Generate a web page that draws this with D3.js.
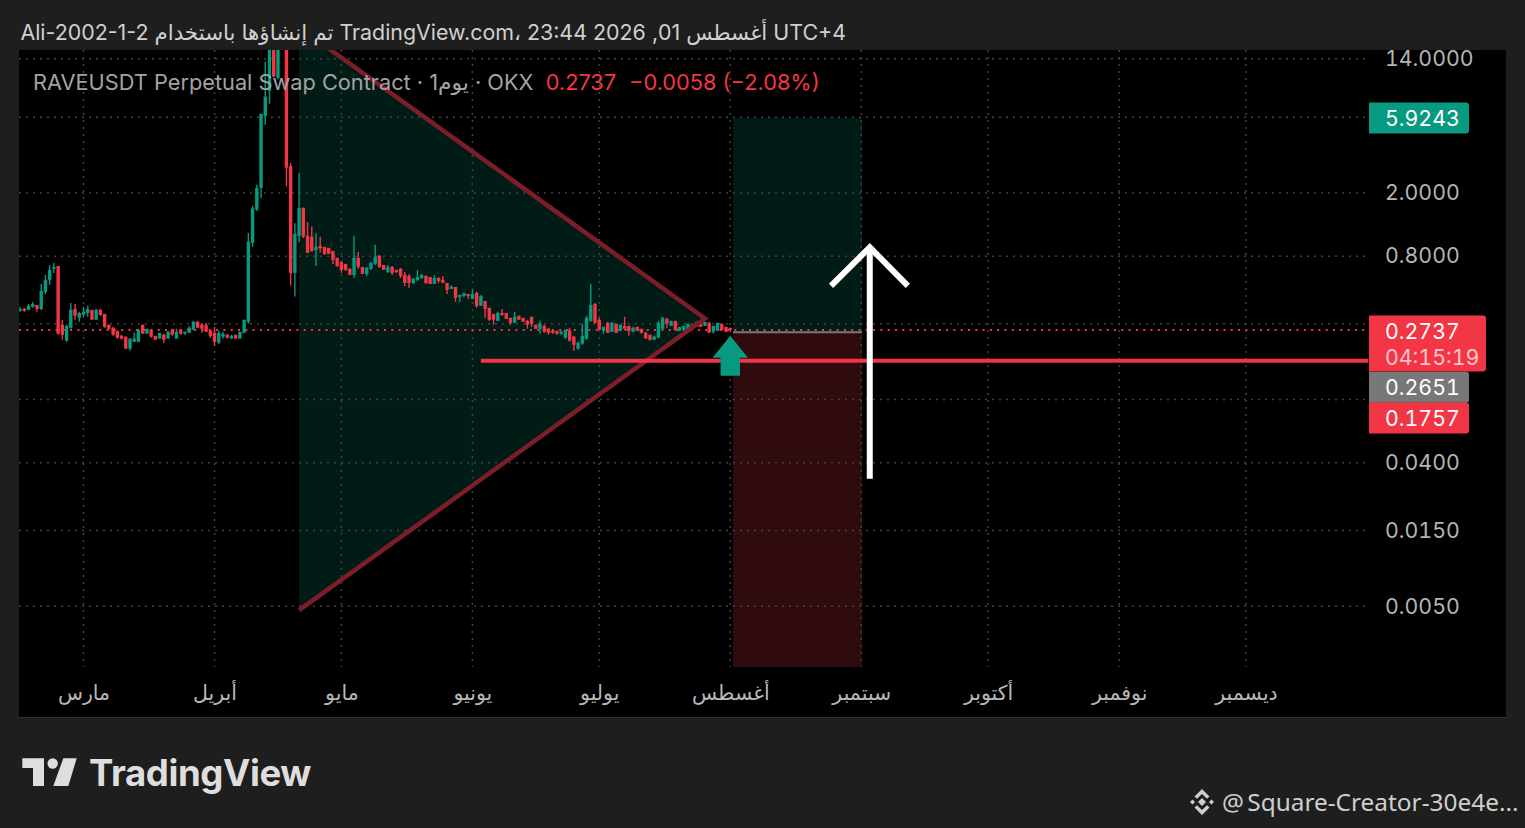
<!DOCTYPE html>
<html lang="ar">
<head>
<meta charset="utf-8">
<title>RAVEUSDT</title>
<script src="https://cdn.jsdelivr.net/npm/d3@7"></script>
<style>
  html, body { margin: 0; padding: 0; background: #1e1e1e; overflow: hidden; }
  svg { display: block; }
  text { font-family: Inter, "Noto Sans", "DejaVu Sans", sans-serif; }
  .price { font-size: 21.3px; font-variant-numeric: tabular-nums; }
</style>
</head>
<body>
<div id="chart"></div>
<script>
/**
 * DATA
 * */
const firstDay = Date.UTC(2026, 1, 14);

const opens = [
  .362,.372,.367,.383,.394,.372,.476,.567,.665,.694,.296,.235,.283,.372,.327,
  .341,.351,.367,.318,.367,.346,.296,.283,.271,.252,
  .249,.209,.231,.231,.296,.260,.275,.252,.242,.256,
  .242,.275,.242,.275,.260,.263,.275,.309,.296,.296,
  .271,.263,.228,.249,.256,.242,.256,.242,.263,.309,
  .970,1.57,2.15,6.12,8.80,22,10.6,26,30,2.95,
  .627,1.07,1.61,1.075,1.06,.872,.929,.915,.902,.863,
  .780,.736,.715,.665,.609,.780,.684,.618,.665,.715,
  .803,.704,.636,.684,.655,.665,.609,.600,.542,.567,
  .583,.600,.592,.534,.583,.567,.542,.497,.512,.443,
  .449,.462,.430,.469,.389,.418,.378,.346,.313,.351,
  .351,.327,.304,.337,.327,.313,.332,.296,.279,.291,
  .279,.271,.271,.260,.245,.271,.249,.209,.225,.242,
  .313,.400,.318,.271,.304,.267,.300,.271,.291,.291,
  .267,.287,.279,.263,.256,.238,.245,.279,.322,.291,
  .313,.271,.275,.275,.296,.287,.304,.291,.304,.267,
  .271,.300,.287,.283
];
const highs = [
  .383,.378,.400,.412,.394,.534,.609,.704,.725,.694,.318,.296,.406,.400,.357,
  .383,.389,.367,.372,.372,.346,.296,.287,.271,.256,
  .249,.242,.263,.279,.296,.279,.275,.252,.263,.260,
  .271,.279,.279,.275,.267,.291,.313,.313,.300,.304,
  .271,.287,.271,.267,.260,.256,.256,.267,.318,1.12,
  1.66,2.25,6.30,13.4,28,30,32,40,38,3.08,
  1.29,2.68,1.62,1.31,1.23,1.115,1.06,.915,.902,.863,
  .780,.736,.715,.674,1.075,.851,.684,.684,.736,.942,
  .814,.704,.704,.694,.655,.674,.636,.618,.583,.655,
  .618,.609,.592,.609,.592,.600,.542,.527,.512,.456,
  .469,.462,.490,.476,.456,.418,.378,.346,.357,.372,
  .351,.327,.357,.337,.327,.318,.332,.296,.313,.296,
  .283,.275,.271,.271,.275,.283,.252,.231,.300,.337,
  .534,.406,.327,.287,.309,.309,.300,.296,.332,.291,
  .287,.287,.279,.267,.256,.252,.313,.332,.327,.313,
  .313,.287,.291,.300,.296,.309,.304,.309,.309,.291,
  .304,.300,.287,.283
];
const lows = [
  .357,.357,.367,.378,.357,.367,.462,.527,.627,.256,.238,.231,.279,.318,.309,
  .332,.332,.318,.318,.337,.283,.275,.252,.242,.238,
  .209,.203,.231,.231,.260,.260,.245,.238,.242,.228,
  .242,.252,.242,.256,.256,.263,.275,.283,.263,.267,
  .245,.218,.225,.242,.242,.242,.242,.242,.263,.300,
  .915,1.54,1.86,5.37,7.29,10.7,10.4,22,2.20,.522,
  .445,.98,1.04,.838,.851,.694,.842,.814,.826,.715,
  .684,.627,.646,.609,.583,.665,.618,.600,.655,.704,
  .674,.655,.627,.609,.627,.583,.519,.504,.534,.558,
  .575,.534,.534,.534,.542,.542,.462,.497,.412,.412,
  .443,.430,.430,.378,.389,.327,.313,.296,.313,.337,
  .322,.296,.304,.318,.309,.279,.287,.279,.260,.263,
  .256,.260,.256,.256,.242,.231,.203,.206,.221,.238,
  .309,.300,.275,.260,.263,.267,.263,.271,.275,.252,
  .267,.271,.260,.242,.235,.238,.245,.275,.283,.291,
  .271,.271,.271,.271,.279,.287,.287,.291,.263,.260,
  .271,.271,.267,.267
];
const closes = [
  .372,.362,.389,.400,.372,.483,.567,.655,.684,.260,.256,.291,.367,.337,.351,
  .357,.372,.318,.367,.341,.287,.279,.256,.245,.242,
  .209,.242,.242,.275,.260,.279,.249,.238,.263,.238,
  .267,.256,.267,.260,.267,.283,.309,.283,.279,.267,
  .252,.231,.263,.260,.245,.252,.242,.267,.318,.985,
  1.60,2.15,6.30,8.07,20,10.8,26,32,2.88,.627,
  1.106,1.61,1.06,.838,.863,.915,.898,.826,.826,.757,
  .694,.655,.655,.609,.780,.684,.618,.674,.725,.791,
  .684,.655,.684,.627,.636,.600,.542,.542,.575,.592,
  .609,.542,.534,.583,.558,.542,.490,.512,.436,.456,
  .469,.449,.462,.389,.449,.372,.318,.318,.351,.341,
  .322,.304,.332,.318,.309,.296,.300,.279,.300,.267,
  .263,.263,.260,.267,.275,.235,.221,.228,.252,.327,
  .394,.304,.275,.287,.263,.304,.263,.296,.279,.271,
  .283,.271,.263,.242,.238,.249,.304,.327,.300,.313,
  .275,.287,.291,.300,.279,.309,.287,.309,.263,.291,
  .304,.275,.267,.2737
];

const priceTicks = [14, 6, 2, 0.8, 0.3, 0.1, 0.04, 0.015, 0.005];
const coveredTicks = [6, 0.3, 0.1]; // these labels sit behind the price badges
const monthDates = d3.range(2, 12).map(m => new Date(Date.UTC(2026, m, 1)));
const monthLabels = ["مارس", "أبريل", "مايو", "يونيو", "يوليو", "أغسطس", "سبتمبر", "أكتوبر", "نوفمبر", "ديسمبر"];

// drawings on the chart: [date, price]
const triangleTop = [Date.UTC(2026, 3, 21), 22.1];
const triangleApex = [Date.UTC(2026, 6, 26), 0.3243];
const triangleBottom = [Date.UTC(2026, 3, 21), 0.00472];
const boxStart = Date.UTC(2026, 7, 1, 16), boxEnd = Date.UTC(2026, 8, 1, 4);
const takeProfit = 5.9243, entryPrice = 0.2651, stopPrice = 0.00206;
const lastPrice = 0.2737, levelPrice = 0.1757, levelStart = Date.UTC(2026, 5, 3);
const whiteArrowShaft = [[Date.UTC(2026, 8, 3), 0.0317], [Date.UTC(2026, 8, 3), 0.91]];
const whiteArrowHead = [[Date.UTC(2026, 7, 24, 20), 0.519], [Date.UTC(2026, 8, 3), 0.91], [Date.UTC(2026, 8, 12), 0.519]];
const markerAnchor = [Date.UTC(2026, 7, 1), 0.252];

const badges = [
  { label: "5.9243", y: 118, h: 31, w: 100, color: "#089981" },
  { label: "0.2651", y: 387.2, h: 31, w: 100, color: "#787878" },
  { label: "0.1757", y: 418, h: 31, w: 100, color: "#f23645" },
];

/**
 * CONSTANTS
 * */
const width = 1525, height = 828;
const plot = { left: 19, right: 1506, top: 50, bottom: 717, paneRight: 1368, paneBottom: 667 };
const green = "#089981", red = "#f23645";

const x = d3.scaleUtc()
  .domain([Date.UTC(2026, 2, 1), Date.UTC(2026, 11, 1)])
  .range([83.5, 1246]);
const y = d3.scaleLog()
  .domain([14, 0.005])
  .range([58.7, 606.2]);

const candles = opens.map((o, i) => ({
  date: d3.utcDay.offset(firstDay, i),
  o, h: highs[i], l: lows[i], c: closes[i],
}));

/**
 * DRAW
 * */
const svg = d3.select("#chart").append("svg")
  .attr("width", width)
  .attr("height", height);

svg.append("rect").attr("width", width).attr("height", height).attr("fill", "#1e1e1e");
svg.append("rect")
  .attr("x", plot.left).attr("y", plot.top)
  .attr("width", plot.right - plot.left).attr("height", plot.bottom - plot.top)
  .attr("fill", "#000");
svg.append("line")
  .attr("x1", plot.left).attr("x2", plot.right)
  .attr("y1", plot.bottom + 0.5).attr("y2", plot.bottom + 0.5)
  .attr("stroke", "#303030");

svg.append("clipPath").attr("id", "pane").append("rect")
  .attr("x", plot.left).attr("y", plot.top)
  .attr("width", plot.paneRight - plot.left).attr("height", plot.paneBottom - plot.top);

const pane = svg.append("g").attr("clip-path", "url(#pane)");

// triangle fill sits under the grid and the candles
const point = d => [x(d[0]), y(d[1])];
pane.append("polygon")
  .attr("points", [triangleTop, triangleApex, triangleBottom].map(point).join(" "))
  .attr("fill", green)
  .attr("fill-opacity", 0.18);

// long position boxes
pane.append("rect")
  .attr("x", x(boxStart)).attr("width", x(boxEnd) - x(boxStart))
  .attr("y", y(takeProfit)).attr("height", y(entryPrice) - y(takeProfit))
  .attr("fill", green).attr("fill-opacity", 0.18);
pane.append("rect")
  .attr("x", x(boxStart)).attr("width", x(boxEnd) - x(boxStart))
  .attr("y", y(entryPrice)).attr("height", y(stopPrice) - y(entryPrice))
  .attr("fill", red).attr("fill-opacity", 0.2);

// grid
pane.selectAll(".hgrid")
  .data(priceTicks)
  .join("line")
  .attr("class", "hgrid")
  .attr("x1", plot.left).attr("x2", plot.paneRight)
  .attr("y1", d => y(d)).attr("y2", d => y(d))
  .attr("stroke", "#424242").attr("stroke-width", 1.5).attr("stroke-dasharray", "2 5");
pane.selectAll(".vgrid")
  .data(monthDates)
  .join("line")
  .attr("class", "vgrid")
  .attr("x1", d => x(d)).attr("x2", d => x(d))
  .attr("y1", plot.top).attr("y2", plot.paneBottom)
  .attr("stroke", "#424242").attr("stroke-width", 1.5).attr("stroke-dasharray", "2 5");

// last price line
pane.append("line")
  .attr("x1", plot.left).attr("x2", plot.paneRight)
  .attr("y1", y(lastPrice)).attr("y2", y(lastPrice))
  .attr("stroke", red).attr("stroke-width", 2).attr("stroke-dasharray", "2 5.3");

// candles
const candle = pane.selectAll(".candle")
  .data(candles)
  .join("g")
  .attr("class", "candle")
  .attr("fill", d => d.c >= d.o ? green : red)
  .attr("stroke", d => d.c >= d.o ? green : red);
candle.append("line")
  .attr("x1", d => x(d.date)).attr("x2", d => x(d.date))
  .attr("y1", d => y(d.h)).attr("y2", d => y(d.l))
  .attr("stroke-width", 1.4);
candle.append("rect")
  .attr("x", d => x(d.date) - 1.7)
  .attr("width", 3.4)
  .attr("y", d => y(Math.max(d.o, d.c)))
  .attr("height", d => Math.max(1.2, Math.abs(y(d.o) - y(d.c))))
  .attr("stroke", "none");

// triangle edges
const edges = d3.line().x(d => x(d[0])).y(d => y(d[1]));
pane.append("path")
  .attr("d", edges([triangleTop, triangleApex, triangleBottom]))
  .attr("fill", "none")
  .attr("stroke", "#7d1d29")
  .attr("stroke-width", 4.5);

// entry line of the position
pane.append("line")
  .attr("x1", x(boxStart)).attr("x2", x(boxEnd))
  .attr("y1", y(entryPrice)).attr("y2", y(entryPrice))
  .attr("stroke", "#787878").attr("stroke-width", 2);

// horizontal level
pane.append("line")
  .attr("x1", x(levelStart)).attr("x2", plot.paneRight)
  .attr("y1", y(levelPrice)).attr("y2", y(levelPrice))
  .attr("stroke", red).attr("stroke-width", 4);

// teal arrow marker
const [mx, my] = point(markerAnchor);
const markerShape = [[0, 0], [17.7, 22], [9.7, 22], [9.7, 40], [-9.7, 40], [-9.7, 22], [-17.7, 22]];
pane.append("polygon")
  .attr("points", markerShape.map(d => [mx + d[0], my + d[1]]).join(" "))
  .attr("fill", green);

// white arrow
const arrow = d3.line().x(d => x(d[0])).y(d => y(d[1]));
pane.append("path").attr("d", arrow(whiteArrowShaft))
  .attr("fill", "none").attr("stroke", "#fff").attr("stroke-width", 6);
pane.append("path").attr("d", arrow(whiteArrowHead))
  .attr("fill", "none").attr("stroke", "#fff").attr("stroke-width", 6);

// axes
const yAxis = svg.append("g")
  .attr("transform", `translate(${plot.paneRight},0)`)
  .call(d3.axisRight(y).tickValues(priceTicks)
    .tickFormat(d => coveredTicks.includes(d) ? "" : d3.format(".4f")(d))
    .tickSize(0).tickPadding(17));
const xAxis = svg.append("g")
  .attr("transform", `translate(0,${plot.paneBottom})`)
  .call(d3.axisBottom(x).tickValues(monthDates).tickFormat((d, i) => monthLabels[i]).tickSize(0).tickPadding(18));
yAxis.select(".domain").remove();
xAxis.select(".domain").remove();
yAxis.selectAll("text")
  .attr("class", "price").attr("fill", "#b4b4b4").style("font-family", null);
xAxis.selectAll("text")
  .attr("fill", "#b8b8b8").style("font-size", "20.5px").style("font-family", "'DejaVu Sans', sans-serif");

// price badges
const badge = svg.selectAll(".badge")
  .data(badges)
  .join("g")
  .attr("class", "badge");
badge.append("path")
  .attr("d", d => roundedRight(plot.paneRight + 1, d.y - d.h / 2, d.w, d.h))
  .attr("fill", d => d.color);
badge.append("text")
  .attr("class", "price")
  .attr("x", 1385).attr("y", d => d.y + 8)
  .attr("fill", "#fff")
  .text(d => d.label);

svg.append("path")
  .attr("d", roundedRight(plot.paneRight + 1, 315.5, 117, 56))
  .attr("fill", red);
svg.append("text")
  .attr("class", "price")
  .attr("x", 1385).attr("y", 339)
  .attr("fill", "#fff")
  .text("0.2737");
svg.append("text")
  .attr("class", "price")
  .attr("x", 1385).attr("y", 365)
  .attr("fill", "#ffc4c9")
  .text("04:15:19");

function roundedRight(px, py, w, h) {
  const r = 3;
  return `M${px},${py}H${px + w - r}Q${px + w},${py} ${px + w},${py + r}V${py + h - r}Q${px + w},${py + h} ${px + w - r},${py + h}H${px}Z`;
}

// header line, right to left
svg.append("text")
  .attr("x", 846).attr("y", 40)
  .attr("direction", "rtl")
  .attr("text-anchor", "start")
  .attr("fill", "#d0d0d0")
  .style("font-size", "21.4px")
  .text("UTC+4 أغسطس 01, 2026 23:44 ،TradingView.com تم إنشاؤها باستخدام Ali-2002-1-2");

// legend
const legend = svg.append("text")
  .attr("x", 33).attr("y", 90)
  .attr("xml:space", "preserve")
  .style("font-size", "21.75px");
legend.append("tspan").attr("fill", "#a3a3a3").text("RAVEUSDT Perpetual Swap Contract · 1يوم · OKX");
legend.append("tspan").attr("fill", red).attr("dx", 13).text("0.2737");
legend.append("tspan").attr("fill", red).attr("dx", 13).text("−0.0058 (−2.08%)");

// logo
const logo = svg.append("g").attr("fill", "#dedede");
logo.append("path").attr("d", "M22.3,758.3H44V786H33V768H22.3Z");
logo.append("circle").attr("cx", 52.7).attr("cy", 763.5).attr("r", 5.2);
logo.append("path").attr("d", "M63.3,758.3H76.7L68.3,786H53.3Z");
logo.append("text")
  .attr("x", 89).attr("y", 786)
  .style("font-size", "36.6px").style("font-weight", 700).style("letter-spacing", "-0.4px")
  .text("TradingView");

// watermark
const mark = svg.append("g").attr("fill", "#cfcfcf").attr("transform", "translate(1202,802)");
mark.append("path").attr("d", "M0,-4L4,0L0,4L-4,0Z");
mark.append("path").attr("d", "M-9.5,-2.5L-7,0L-9.5,2.5L-12,0Z");
mark.append("path").attr("d", "M9.5,-2.5L12,0L9.5,2.5L7,0Z");
mark.append("path").attr("d", "M0,-13L7.5,-5.5L5,-3.3L0,-8L-5,-3.3L-7.5,-5.5Z");
mark.append("path").attr("d", "M0,13L7.5,5.5L5,3.3L0,8L-5,3.3L-7.5,5.5Z");
svg.append("text")
  .attr("x", 1222).attr("y", 811)
  .attr("fill", "#cfcfcf")
  .style("font-family", "'Noto Sans', sans-serif")
  .style("font-size", "24.4px")
  .style("word-spacing", "-3px")
  .text("@ Square-Creator-30e4e...");
</script>
</body>
</html>
